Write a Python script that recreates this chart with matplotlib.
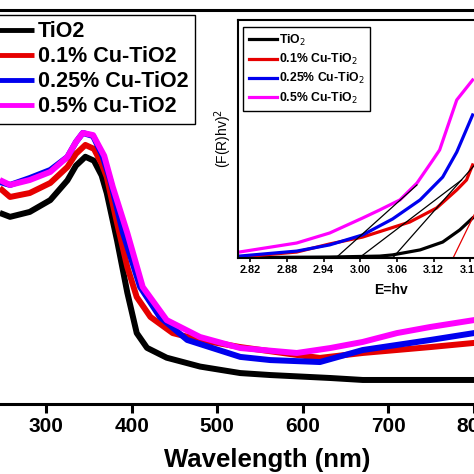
import matplotlib
matplotlib.use("Agg")
import matplotlib.pyplot as plt

plt.rcParams["font.family"] = ["Liberation Sans", "DejaVu Sans"]

# main UV-vis spectra (wavelength nm, absorbance a.u.)
wl_tio2 = [246, 258, 281, 305, 325, 335, 346, 356, 365, 371, 383, 395, 406, 418, 441, 480, 527, 562, 632, 670, 800, 815]
ab_tio2 = [0.97, 0.95, 0.975, 1.035, 1.135, 1.21, 1.255, 1.235, 1.16, 1.07, 0.83, 0.565, 0.36, 0.285, 0.235, 0.19, 0.157, 0.147, 0.132, 0.122, 0.122, 0.122]

wl_cu01 = [246, 258, 281, 305, 325, 335, 346, 356, 365, 371, 383, 395, 406, 422, 448, 480, 527, 593, 620, 670, 749, 800, 815]
ab_cu01 = [1.096, 1.051, 1.071, 1.122, 1.203, 1.27, 1.315, 1.295, 1.22, 1.152, 0.919, 0.695, 0.543, 0.442, 0.36, 0.325, 0.289, 0.249, 0.234, 0.259, 0.289, 0.31, 0.315]

wl_cu025 = [246, 258, 281, 305, 325, 335, 343, 355, 366, 375, 390, 410, 433, 465, 527, 562, 620, 670, 749, 800, 815]
ab_cu025 = [1.127, 1.112, 1.147, 1.188, 1.254, 1.33, 1.376, 1.36, 1.26, 1.137, 0.868, 0.594, 0.442, 0.325, 0.239, 0.223, 0.213, 0.274, 0.325, 0.36, 0.37]

wl_cu05 = [246, 258, 281, 305, 325, 335, 343, 355, 368, 378, 395, 413, 441, 480, 527, 593, 632, 670, 710, 749, 800, 815]
ab_cu05 = [1.137, 1.112, 1.137, 1.178, 1.254, 1.33, 1.376, 1.365, 1.26, 1.102, 0.868, 0.594, 0.426, 0.34, 0.284, 0.259, 0.284, 0.315, 0.36, 0.391, 0.426, 0.436]

labels_main = ["TiO2", "0.1% Cu-TiO2", "0.25% Cu-TiO2", "0.5% Cu-TiO2"]
labels_inset = ["TiO$_2$", "0.1% Cu-TiO$_2$", "0.25% Cu-TiO$_2$", "0.5% Cu-TiO$_2$"]
colors = ["black", "#e60000", "#0000ee", "#ff00ff"]

# Tauc plot inset (E = hv, (F(R)hv)^2 normalised)
e_tio2 = [2.802, 2.950, 3.032, 3.053, 3.098, 3.135, 3.163, 3.184]
t_tio2 = [0.002, 0.004, 0.008, 0.013, 0.034, 0.067, 0.118, 0.168]
e_cu01 = [2.802, 2.896, 2.950, 3.004, 3.081, 3.125, 3.158, 3.174, 3.184]
t_cu01 = [0.004, 0.025, 0.059, 0.088, 0.151, 0.210, 0.286, 0.328, 0.391]
e_cu025 = [2.802, 2.896, 2.950, 3.004, 3.053, 3.098, 3.135, 3.158, 3.184]
t_cu025 = [0.008, 0.029, 0.055, 0.097, 0.164, 0.244, 0.340, 0.445, 0.601]
e_cu05 = [2.802, 2.896, 2.950, 3.004, 3.032, 3.065, 3.093, 3.119, 3.130, 3.158, 3.184]
t_cu05 = [0.025, 0.063, 0.105, 0.168, 0.202, 0.244, 0.315, 0.412, 0.454, 0.664, 0.748]

# tangent (band-gap extrapolation) lines: (E0, E1, t0, t1, colour)
tangents = [
    (2.960, 3.093, 0.0, 0.307, "black"),
    (2.998, 3.166, 0.0, 0.328, "black"),
    (3.053, 3.186, 0.0, 0.387, "black"),
    (3.152, 3.190, 0.0, 0.200, "#e60000"),
]

inset_ticks = [2.82, 2.88, 2.94, 3.00, 3.06, 3.12, 3.18, 3.24, 3.30]

W = H = 474
fig = plt.figure(figsize=(4.74, 4.74), dpi=100)

ax = fig.add_axes([-39.6 / W, 70 / H, 599.2 / W, 394 / H])
for x, y, c, lab in zip([wl_tio2, wl_cu01, wl_cu025, wl_cu05],
                        [ab_tio2, ab_cu01, ab_cu025, ab_cu05], colors, labels_main):
    ax.plot(x, y, color=c, lw=4.3, label=lab, solid_capstyle="butt", solid_joinstyle="round")
ax.set_xlim(200, 900)
ax.set_ylim(0, 2.0)
ax.set_xticks(range(300, 900, 100))
ax.set_yticks([])
ax.tick_params(axis="x", direction="out", length=6.5, width=2.2, labelsize=15, pad=3)
for t in ax.get_xticklabels():
    t.set_fontweight("bold")
for s in ax.spines.values():
    s.set_linewidth(2.2)
ax.set_xlabel("Wavelength (nm)", fontsize=18.5, fontweight="bold")
ax.xaxis.set_label_coords((267 + 39.6) / 599.2, -(448 - 404) / 394, transform=ax.transAxes)

leg = ax.legend(loc="upper right", bbox_to_anchor=(195 / W, 1 - 15 / H),
                bbox_transform=fig.transFigure, borderaxespad=0, fancybox=False,
                edgecolor="black", framealpha=1, handlelength=3.0, handletextpad=0.2,
                labelspacing=0.18, borderpad=0.3, prop={"weight": "bold", "size": 15.5})
leg.get_frame().set_linewidth(1.0)
for ln in leg.get_lines():
    ln.set_linewidth(3.5)

# inset
axi = fig.add_axes([238 / W, (H - 258) / H, 305.5 / W, 238 / H])
for x, y, c, lab in zip([e_tio2, e_cu01, e_cu025, e_cu05],
                        [t_tio2, t_cu01, t_cu025, t_cu05], colors, labels_inset):
    axi.plot(x, y, color=c, lw=2.3, label=lab)
for e0, e1, t0, t1, c in tangents:
    axi.plot([e0, e1], [t0, t1], color=c, lw=0.9)
axi.set_xlim(2.80, 3.30)
axi.set_ylim(0, 1)
axi.set_xticks(inset_ticks)
axi.set_xticklabels([f"{v:.2f}" for v in inset_ticks])
axi.set_yticks([])
axi.tick_params(axis="x", direction="out", length=3, width=1.2, labelsize=7.8, pad=2)
for t in axi.get_xticklabels():
    t.set_fontweight("bold")
for s in axi.spines.values():
    s.set_linewidth(1.5)
axi.set_xlabel("E=hv", fontsize=10, fontweight="bold", labelpad=6)
axi.set_ylabel("(F(R)hv)$^2$", fontsize=10, labelpad=3)

legi = axi.legend(loc="upper left", bbox_to_anchor=(5 / 305.5, 1 - 7 / 238),
                  borderaxespad=0, fancybox=False, edgecolor="black", framealpha=1,
                  handlelength=2.3, handletextpad=0.2, labelspacing=0.35, borderpad=0.45,
                  prop={"weight": "bold", "size": 8.8})
legi.get_frame().set_linewidth(1.0)

fig.savefig("out.png", dpi=100, facecolor="white")
